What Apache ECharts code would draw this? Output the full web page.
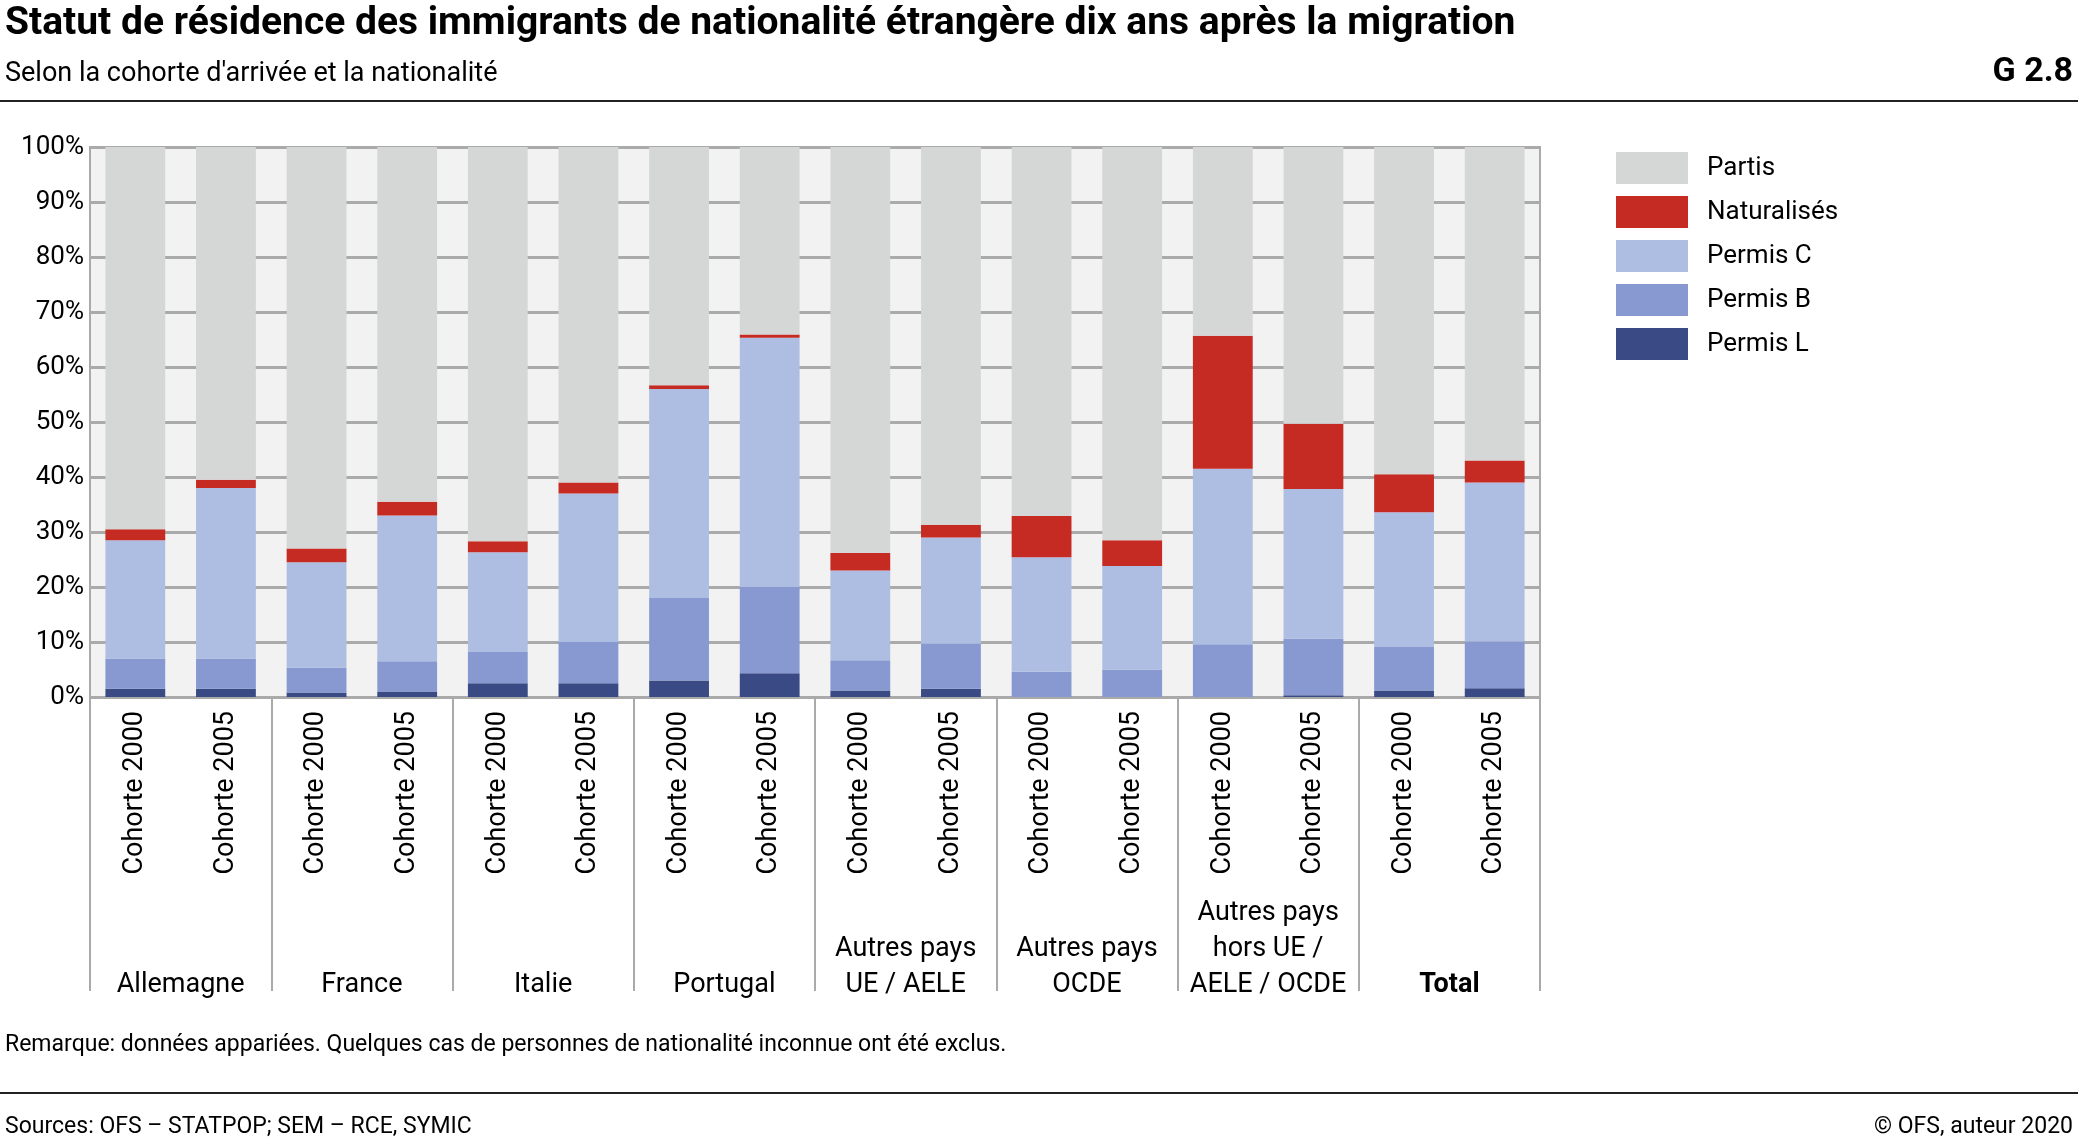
<!DOCTYPE html>
<html>
<head>
<meta charset="utf-8">
<script src="https://cdn.jsdelivr.net/npm/echarts@6/dist/echarts.min.js"></script>
<style>html,body{margin:0;padding:0;background:#fff}#chart{width:2078px;height:1140px}</style>
</head>
<body>
<div id="chart"></div>
<script>
// cohort bars, two per nationality group
const cohorts = ['Cohorte 2000', 'Cohorte 2005', 'Cohorte 2000', 'Cohorte 2005', 'Cohorte 2000', 'Cohorte 2005', 'Cohorte 2000', 'Cohorte 2005',
  'Cohorte 2000', 'Cohorte 2005', 'Cohorte 2000', 'Cohorte 2005', 'Cohorte 2000', 'Cohorte 2005', 'Cohorte 2000', 'Cohorte 2005'];
const groups = ['Allemagne', 'France', 'Italie', 'Portugal', 'Autres pays\nUE / AELE', 'Autres pays\nOCDE', 'Autres pays\nhors UE /\nAELE / OCDE', 'Total'];
const yTicks = [0, 10, 20, 30, 40, 50, 60, 70, 80, 90, 100];

const permisL = [1.5, 1.5, 0.8, 1, 2.5, 2.5, 3, 4.3, 1.2, 1.5, 0, 0, 0, 0.3, 1.2, 1.6];
const permisB = [5.5, 5.5, 4.5, 5.5, 5.7, 7.5, 15, 15.7, 5.5, 8.2, 4.6, 5, 9.6, 10.3, 7.9, 8.5];
const permisC = [21.5, 31, 19.2, 26.5, 18.1, 27, 38, 45.3, 16.3, 19.3, 20.8, 18.8, 31.9, 27.2, 24.5, 28.9];
const naturalises = [2, 1.5, 2.5, 2.5, 2, 2, 0.7, 0.6, 3.2, 2.3, 7.5, 4.7, 24.2, 11.9, 6.9, 4];
const partis = [69.5, 60.5, 73, 64.5, 71.7, 61, 43.3, 34.1, 73.8, 68.7, 67.1, 71.5, 34.3, 50.3, 59.5, 57];

const font = 'Roboto, "Liberation Sans", sans-serif';
const chart = echarts.init(document.getElementById('chart'));

const bar = (name, data, color) => ({
  name, type: 'bar', stack: 'total', data, barCategoryGap: '34%',
  itemStyle: { color }, emphasis: { disabled: true }
});

chart.setOption({
  textStyle: { fontFamily: font, color: '#000' },
  animation: false,
  title: [
    { text: 'Statut de résidence des immigrants de nationalité étrangère dix ans après la migration', left: 0, top: 0,
      textStyle: { fontSize: 39, fontWeight: 'bold', fontFamily: font, color: '#000' } },
    { text: "Selon la cohorte d'arrivée et la nationalité", left: 0, top: 56,
      textStyle: { fontSize: 27, fontWeight: 'normal', fontFamily: font, color: '#000' } },
    { text: 'G 2.8', right: 0, top: 50,
      textStyle: { fontSize: 34, fontWeight: 'bold', fontFamily: font, color: '#000' } },
    { text: 'Remarque: données appariées. Quelques cas de personnes de nationalité inconnue ont été exclus.', left: 0, top: 1029,
      textStyle: { fontSize: 23, fontWeight: 'normal', fontFamily: font, color: '#000' } },
    { text: 'Sources: OFS – STATPOP; SEM – RCE, SYMIC', left: 0, top: 1111,
      textStyle: { fontSize: 23, fontWeight: 'normal', fontFamily: font, color: '#000' } },
    { text: '© OFS, auteur 2020', right: 0, top: 1111,
      textStyle: { fontSize: 23, fontWeight: 'normal', fontFamily: font, color: '#000' } }
  ],
  graphic: [
    { type: 'rect', shape: { x: 0, y: 100, width: 2078, height: 2 }, style: { fill: '#222' } },
    { type: 'rect', shape: { x: 0, y: 1092, width: 2078, height: 2 }, style: { fill: '#222' } }
  ],
  legend: {
    data: ['Partis', 'Naturalisés', 'Permis C', 'Permis B', 'Permis L'],
    orient: 'vertical', left: 1611, top: 147,
    itemWidth: 72, itemHeight: 32, itemGap: 12, icon: 'rect',
    textStyle: { fontSize: 26, fontFamily: font, color: '#000', padding: [0, 0, 0, 14] }
  },
  grid: { left: 90, right: 538, top: 147, bottom: 443, show: true, backgroundColor: '#f2f2f2', borderColor: '#aaa', borderWidth: 2 },
  xAxis: [
    {
      type: 'category', data: cohorts, position: 'bottom',
      axisLine: { lineStyle: { color: '#aaa', width: 2 } },
      axisTick: { show: true, length: 294, interval: i => i % 2 === 0, lineStyle: { color: '#aaa', width: 2 } },
      axisLabel: { rotate: 90, fontSize: 27, color: '#000', margin: 14, interval: 0 }
    },
    {
      type: 'category', data: groups, position: 'bottom', offset: 298,
      axisLine: { show: false }, axisTick: { show: false },
      axisLabel: {
        interval: 0, fontSize: 27, lineHeight: 36, color: '#000', verticalAlign: 'bottom', margin: 8,
        formatter: v => v === 'Total' ? '{b|Total}' : v,
        rich: { b: { fontWeight: 'bold', fontSize: 27, fontFamily: font } }
      }
    }
  ],
  yAxis: {
    type: 'value', min: 0, max: 100, interval: 10,
    axisLine: { show: true, lineStyle: { color: '#aaa', width: 2 } },
    splitLine: { lineStyle: { color: '#aaa', width: 3 } },
    axisLabel: { fontSize: 26, color: '#000', margin: 6,
      formatter: v => yTicks.includes(v) ? v + '%' : '' }
  },
  series: [
    bar('Permis L', permisL, '#3a4a85'),
    bar('Permis B', permisB, '#8799d0'),
    bar('Permis C', permisC, '#aebde2'),
    bar('Naturalisés', naturalises, '#c52b23'),
    bar('Partis', partis, '#d5d6d6')
  ]
});
</script>
</body>
</html>
